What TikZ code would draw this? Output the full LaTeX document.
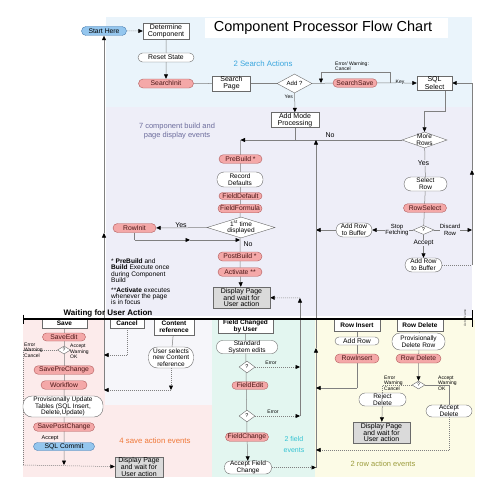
\documentclass[tikz,border=0pt]{standalone}
\usepackage{fontspec}
\setmainfont{Liberation Sans}
\usetikzlibrary{shapes.geometric,shapes.misc,arrows.meta}
\definecolor{evf}{HTML}{F4A8A8}
\definecolor{evd}{HTML}{B05A5A}
\definecolor{evt}{HTML}{4A1616}
\definecolor{blf}{HTML}{94C6EE}
\definecolor{bld}{HTML}{4A7DB0}
\definecolor{lnc}{HTML}{808080}
\definecolor{bxd}{HTML}{6A6A6A}
\definecolor{gbox}{HTML}{DADADA}
\definecolor{bgblue}{HTML}{EAF4FB}
\definecolor{bglav}{HTML}{EEEEF8}
\definecolor{bgpink}{HTML}{FCEBEB}
\definecolor{bgmint}{HTML}{E3F6F0}
\definecolor{bgyel}{HTML}{FCFBE6}
\definecolor{bgwh}{HTML}{F6F6FA}
\definecolor{tpurp}{HTML}{6C6C9C}
\definecolor{tblue}{HTML}{3AA6DE}
\definecolor{torange}{HTML}{F07838}
\definecolor{tcyan}{HTML}{33C3D3}
\definecolor{tolive}{HTML}{9C9C3C}
\pgfdeclarelayer{bg}
\pgfdeclarelayer{mid}
\pgfsetlayers{bg,mid,main}
\begin{document}
\begin{tikzpicture}[x=1pt,y=-1pt,
 ln/.style={draw=lnc, line width=0.5pt},
 dl/.style={ln, dash pattern=on 1pt off 1pt},
 arr/.style={-{Triangle[length=4.5pt,width=4pt,color=black]}},
 ev/.style={rounded rectangle, draw=evd, fill=evf, text=evt, inner xsep=1pt, inner ysep=0pt, minimum height=8.5pt, font=\fontsize{6.8}{7}\selectfont},
 blov/.style={ev, draw=bld, fill=blf, text=black},
 wov/.style={rounded rectangle, draw=bxd, fill=white, inner xsep=1pt, inner ysep=0pt, minimum height=8.5pt, font=\fontsize{6.8}{7}\selectfont},
 wovm/.style={rectangle, rounded corners=6pt, draw=bxd, fill=white, inner sep=0pt, align=center, font=\fontsize{6.5}{6.8}\selectfont},
 box/.style={rectangle, draw=bxd, fill=white, inner sep=0pt, align=center, font=\fontsize{7}{7.2}\selectfont},
 dbox/.style={box, fill=gbox, font=\fontsize{7}{6.9}\selectfont},
 hdr/.style={box, font=\bfseries\fontsize{6.5}{6.8}\selectfont},
 dia/.style={diamond, draw=bxd, fill=white, inner sep=0pt},
 dtx/.style={font=\fontsize{6.5}{6.8}\selectfont, align=center, inner sep=0pt},
 lb5/.style={font=\fontsize{5}{5.4}\selectfont, align=left, inner sep=0pt},
 lb6/.style={font=\fontsize{6}{6.3}\selectfont, align=center, inner sep=0.3pt},
 lb7/.style={font=\fontsize{7}{7.5}\selectfont, align=center, inner sep=0.3pt},
]
\useasboundingbox (0,0) rectangle (495,495);

% ---------- backgrounds ----------
\begin{pgfonlayer}{bg}
\fill[bgblue] (106,17) rectangle (472,107);
\fill[white] (205,18) rectangle (448,38);
\fill[bglav] (106,107) rectangle (472,316);
\fill[bgpink] (23,320) rectangle (105,477);
\fill[bgwh] (105,320) rectangle (212,405);
\fill[bgpink] (105,405) rectangle (212,477);
\fill[bgmint] (212,320) rectangle (315,477);
\fill[bgyel] (315,320) rectangle (475,477);
\end{pgfonlayer}

% ---------- texts ----------
\node[font=\fontsize{14.5}{15}\selectfont] (title) at (323,28) {Component Processor Flow Chart};
\node[font=\fontsize{7.8}{8}\selectfont, text=tblue] (t2s) at (263,64) {2 Search Actions};
\node[font=\fontsize{7.5}{9.5}\selectfont, text=tpurp, align=center] (t7) at (177,131) {7 component build and\\page display events};
\node[font=\fontsize{7.8}{8}\selectfont, text=torange] (t4) at (155,441) {4 save action events};
\node[font=\fontsize{7}{11}\selectfont, text=tcyan, align=center] (t2f) at (294,444) {2 field\\events};
\node[font=\fontsize{7.5}{8}\selectfont, text=tolive] (t2r) at (383,464) {2 row action events};
\node[anchor=north west, align=left, font=\fontsize{6.6}{6.4}\selectfont, inner sep=0pt] (fn1) at (111,258.5) {* \textbf{PreBuild} and\\\textbf{Build} Execute once\\during Component\\Build};
\node[anchor=north west, align=left, font=\fontsize{6.6}{6.2}\selectfont, inner sep=0pt] (fn2) at (111,287.5) {**\textbf{Activate} executes\\whenever the page\\is in focus};
\node[font=\bfseries\fontsize{8}{8}\selectfont, inner sep=0pt] (wait) at (108,313.5) {Waiting for User Action};
\node[rotate=90, font=\fontsize{3.3}{3.5}\selectfont, text=black!70, inner sep=0pt] (actor) at (465,318) {Actor Name};

% ---------- top nodes ----------
\node[blov, minimum width=47pt, minimum height=9pt] (start) at (104,31) {Start Here};
\node[box, minimum width=46pt, minimum height=16pt] (detc) at (166,31) {Determine\\Component};
\node[wov, minimum width=58pt, minimum height=9pt] (reset) at (166,57.5) {Reset State};
\node[ev, minimum width=57pt, minimum height=9pt] (sinit) at (166,83.5) {SearchInit};
\node[box, minimum width=38pt, minimum height=15pt] (spage) at (231.5,83.5) {Search\\Page};
\node[dia, minimum width=35pt, minimum height=19pt, label={[dtx,font=\fontsize{6}{6}\selectfont]center:Add ?}] (add) at (294.5,83.5) {};
\node[ev, minimum width=46pt] (ssave) at (355,83) {SearchSave};
\node[box, minimum width=35pt, minimum height=14pt] (sql) at (434.5,83) {SQL\\Select};
\node[box, minimum width=48pt, minimum height=15pt] (addmode) at (295,120) {Add Mode\\Processing};
\node[dia, minimum width=45pt, minimum height=16pt, label={[dtx]center:More\\Rows}] (more) at (424.5,140) {};
\node[wovm, rounded corners=7pt, minimum width=43pt, minimum height=14pt] (selrow) at (425.5,184) {Select\\Row};
\node[ev, minimum width=45pt] (rowsel) at (425,208) {RowSelect};
\node[dia, minimum width=21pt, minimum height=9pt, label={[dtx,font=\fontsize{5.5}{5.5}\selectfont]center:?}] (q1) at (423.5,230) {};
\node[wovm, rounded corners=7pt, minimum width=36pt, minimum height=14pt] (abL) at (354,230) {Add Row\\to Buffer};
\node[wovm, rounded corners=7pt, minimum width=37pt, minimum height=14pt] (abB) at (423.5,265) {Add Row\\to Buffer};
\node[ev, minimum width=45pt] (prebuild) at (240.5,159) {PreBuild *};
\node[wovm, rounded corners=7pt, minimum width=46pt, minimum height=15pt] (recdef) at (240,179.5) {Record\\Defaults};
\node[ev, minimum width=45pt, minimum height=7pt] (fdef) at (240.5,196) {FieldDefault};
\node[ev, minimum width=46pt] (fform) at (240,208.5) {FieldFormula};
\node[dia, minimum width=68pt, minimum height=21pt, label={[dtx]center:1\textsuperscript{st} time\\displayed}] (first) at (241,227.5) {};
\node[ev, minimum width=45pt, minimum height=9pt] (rowinit) at (134.5,228) {RowInit};
\node[ev, minimum width=46pt, minimum height=9pt] (postb) at (240,256.5) {PostBuild *};
\node[ev, minimum width=46pt] (activ) at (240,272) {Activate **};
\node[dbox, minimum width=57pt, minimum height=21pt] (dispU) at (241.5,297.5) {Display Page\\and wait for\\User action};

% top labels
\node[lb5, anchor=east] (lyes1) at (293,97) {Yes};
\node[lb5, anchor=west] (lerr1) at (335,66.5) {Error/ Warning:\\Cancel};
\node[lb5, fill=bgblue] (lkey) at (400,82) {Key};
\node[lb7] (lno1) at (330,135) {No};
\node[lb7, fill=bglav] (lyes2) at (423.5,163) {Yes};
\node[lb6, fill=bglav] (lstop) at (397,230) {Stop\\Fetching};
\node[lb6, fill=bglav] (ldisc) at (450,230) {Discard\\Row};
\node[lb7, font=\fontsize{6.5}{7}\selectfont, fill=bglav] (lacc1) at (423.5,243) {Accept};
\node[lb7] (lyes3) at (181,225) {Yes};
\node[lb7] (lno2) at (248,244) {No};

% ---------- bottom nodes ----------
\node[hdr, minimum width=45pt, minimum height=9pt] (save) at (64.5,323.5) {Save};
\node[ev, minimum width=45pt, minimum height=8pt] (saveedit) at (64,337) {SaveEdit};
\node[dia, minimum width=13pt, minimum height=8pt, label={[dtx,font=\fontsize{5}{5}\selectfont]center:?}] (q2) at (64,350) {};
\node[ev, minimum width=62pt] (spc) at (64,370) {SavePreChange};
\node[ev, minimum width=48pt] (wf) at (64,385) {Workflow};
\node[wovm, rounded corners=9pt, minimum width=80pt, minimum height=21pt] (prov) at (63,406.5) {Provisionally Update\\Tables (SQL Insert,\\Delete,Update)};
\node[ev, minimum width=63pt] (spost) at (64,427) {SavePostChange};
\node[blov, minimum width=63pt, minimum height=8pt] (commit) at (64,446.5) {SQL Commit};
\node[dbox, minimum width=48pt, minimum height=20pt] (dispS) at (139,467) {Display Page\\and wait for\\User action};
\node[lb5, anchor=west] (lerr2) at (24,350) {Error\\Warning\\Cancel};
\node[lb5, anchor=west] (lacc2) at (70,351.5) {Accept\\Warning\\OK};
\node[lb5, font=\fontsize{5.5}{6}\selectfont] (lacc3) at (50,438) {Accept};

\node[hdr, minimum width=34pt, minimum height=9pt] (cancel) at (127,323.5) {Cancel};
\node[hdr, minimum width=40pt, minimum height=16pt] (content) at (174,327) {Content\\reference};
\node[wovm, rounded corners=9pt, minimum width=45pt, minimum height=21pt] (usersel) at (171,357.5) {User selects\\new Content\\reference};

\node[hdr, minimum width=55pt, minimum height=14pt] (fcbox) at (245.5,326) {Field Changed\\by User};
\node[wovm, minimum width=61pt, minimum height=13pt] (std) at (247,347) {Standard\\System edits};
\node[dia, minimum width=16pt, minimum height=12pt, label={[dtx,font=\fontsize{5.5}{5.5}\selectfont]center:?}] (q3) at (247,367) {};
\node[ev, minimum width=38pt, minimum height=7.5pt] (fedit) at (250,385.5) {FieldEdit};
\node[dia, minimum width=16pt, minimum height=12pt, label={[dtx,font=\fontsize{5.5}{5.5}\selectfont]center:?}] (q4) at (247,416) {};
\node[ev, minimum width=45pt] (fchange) at (247,437) {FieldChange};
\node[wovm, minimum width=47pt, minimum height=13pt] (acceptfc) at (248,467.5) {Accept Field\\Change};
\node[lb5] (lerr3) at (271,363) {Error};
\node[lb5] (lerr4) at (273,412) {Error};

\node[hdr, minimum width=46pt, minimum height=12pt] (rowins) at (357,325) {Row Insert};
\node[hdr, minimum width=46pt, minimum height=12pt] (rowdel) at (420,325) {Row Delete};
\node[wov, minimum width=46pt, minimum height=8pt] (addrow) at (357,341) {Add Row};
\node[ev, minimum width=46pt, minimum height=9pt] (rowinsert) at (357,358.5) {RowInsert};
\node[wovm, rounded corners=8pt, minimum width=53pt, minimum height=17pt] (provdel) at (418.5,341.5) {Provisionally\\Delete Row};
\node[ev, minimum width=47pt, minimum height=9pt] (rowdelete) at (418.5,358.5) {Row Delete};
\node[dia, minimum width=13pt, minimum height=8pt, label={[dtx,font=\fontsize{5}{5}\selectfont]center:?}] (q5) at (418.5,385) {};
\node[wovm, minimum width=47pt, minimum height=13pt] (reject) at (382.5,399.5) {Reject\\Delete};
\node[dbox, minimum width=57pt, minimum height=21pt] (dispY) at (381.5,432.5) {Display Page\\and wait for\\User action};
\node[wovm, minimum width=46pt, minimum height=12pt] (acceptdel) at (449,411) {Accept\\Delete};
\node[lb5, anchor=west] (lerr5) at (384,383) {Error\\Warning\\Cancel};
\node[lb5, anchor=west] (lacc5) at (438,383) {Accept\\Warning\\OK};

% ---------- coordinates ----------
\coordinate (lpR) at (390,83);
\coordinate (lpT) at (321,72);
\coordinate (lpL) at (321,83);
\coordinate (sqc) at (445,111);
\coordinate (noC) at (240.5,140);
\coordinate (v317a) at (316,230);
\coordinate (rD) at (472,230);
\coordinate (rB) at (472,265);
\coordinate (rM) at (472,170);
\coordinate (rT) at (472,83);
\coordinate (ri1) at (134.5,240);
\coordinate (ri2) at (190,240);
\coordinate (ri3) at (240,240);
\coordinate (L1) at (104,390);
\coordinate (L2) at (104,233);
\coordinate (cn1) at (127,355);
\coordinate (ct1) at (171,390);
\coordinate (sv1) at (64,465);
\coordinate (e1) at (23,350);
\coordinate (e2) at (23,465);
\coordinate (er1) at (300,367);
\coordinate (er2) at (300,416);
\coordinate (vx2) at (300,298);
\coordinate (af1) at (316,467.5);
\coordinate (v1) at (316,348);
\coordinate (v2) at (316,140);
\coordinate (ria) at (357,388);
\coordinate (rib) at (316,388);
\coordinate (rj) at (382.5,385);
\coordinate (ad) at (449,385);
\coordinate (ad2) at (449,450);
\coordinate (ad3) at (316,450);
\coordinate (w1) at (23,319);
\coordinate (w2) at (472,319);

% ---------- connectors ----------
\begin{pgfonlayer}{mid}
\draw[dl,arr] (start) -- (detc);
\draw[ln] (detc) -- (reset);
\draw[ln,arr] (reset) -- (sinit);
\draw[ln] (sinit) -- (spage);
\draw[ln] (spage) -- (add);
\draw[ln] (add) -- (ssave);
\draw[ln,arr] (ssave) -- (sql);
\draw[ln,arr] (lpR) |- (lpT) -- (lpL);
\draw[ln,arr] (add) -- (addmode);
\draw[ln,arr] (sql.south -| sqc) -- (sqc) -| (more.north);
\draw[ln,arr] (more) -- (noC);
\draw[ln] (addmode) -- (addmode |- noC);
\draw[ln] (more) -- (selrow);
\draw[ln] (selrow) -- (q1);
\draw[ln,arr] (q1) -- (abL);
\draw[ln,arr] (abL) -- (v317a);
\draw[ln,arr] (q1) -- (rD);
\draw[ln,arr] (q1) -- (abB);
\draw[dl] (abB) -- (rB);
\draw[ln,arr] (rB) -- (rM);
\draw[ln,arr] (rM) -- (rT) -- (sql);
\draw[ln] (noC) -- (activ);
\draw[ln,arr] (activ) -- (dispU);
\draw[ln,arr] (first) -- (rowinit);
\draw[ln] (rowinit) -- (ri1);
\draw[ln,arr] (ri1) -- (ri2);
\draw[ln,arr] (ri2) -- (ri3);
% left return line
\draw[ln,arr] (L1) -- (L2);
\draw[ln,arr] (L2) -- (start);
\draw[dl] (cancel) -- (cn1);
\draw[dl,arr] (cn1) -- (cn1 -| L1);
\draw[ln] (content) -- (usersel);
\draw[dl,arr] (usersel) -- (ct1);
\draw[dl,arr] (ct1) -- (L1);
% save column
\draw[ln] (save) -- (commit);
\draw[ln,arr] (commit) -- (sv1);
\draw[dl] (q2) -- (e1) -- (e2);
\draw[dl,arr] (e2) -- (dispS);
% field column
\draw[ln] (fcbox) -- (fchange);
\draw[ln,arr] (fchange) -- (acceptfc);
\draw[dl,arr] (q3) -- (er1);
\draw[dl,arr] (q4) -- (er2);
\draw[ln,arr] (er2) -- (vx2);
\draw[dl,arr] (vx2) -- (dispU);
\draw[dl,arr] (acceptfc) -- (af1);
\draw[ln,arr] (af1) -- (v1);
\draw[ln,arr] (v1) -- (v2);
% row columns
\draw[ln] (rowins) -- (ria);
\draw[ln,arr] (ria) -- (rib);
\draw[ln] (rowdel) -- (rowdelete);
\draw[ln,arr] (rowdelete) -- (q5);
\draw[dl] (q5) -- (rj) -- (reject);
\draw[ln,arr] (reject) -- (dispY);
\draw[ln] (q5) -- (ad) -- (acceptdel);
\draw[dl] (acceptdel) -- (ad2);
\draw[dl,arr] (ad2) -- (ad3);
\end{pgfonlayer}

% waiting line
\draw[line width=1.5pt] (w1) -- (w2);
\draw[line width=1pt] (23,314.5) -- (23,323.5);
\draw[line width=1pt] (472,310) -- (472,327);
\end{tikzpicture}
\end{document}
